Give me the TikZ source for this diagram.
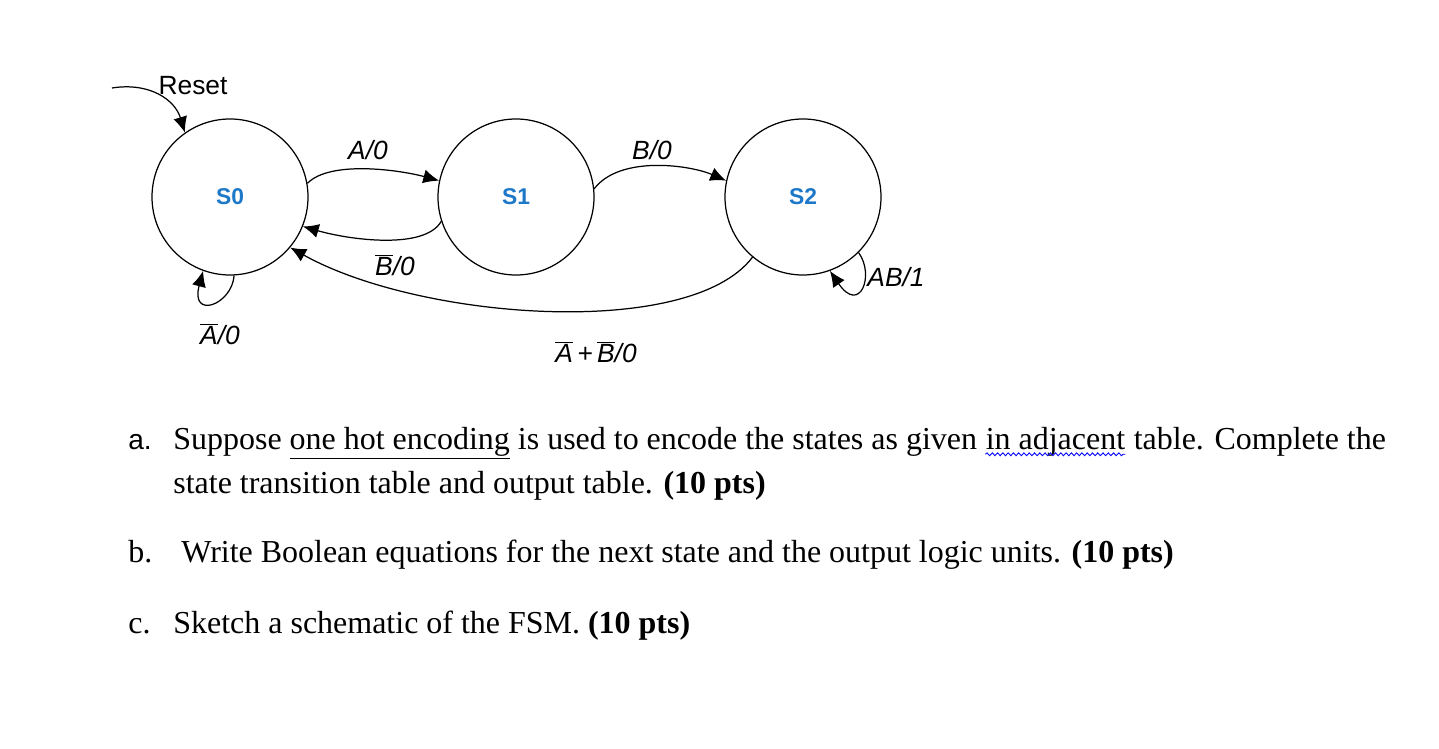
\documentclass[tikz,border=0pt]{standalone}
\usepackage{fontspec}
\setmainfont{Liberation Serif}
\newfontfamily\arial{Liberation Sans}
\usetikzlibrary{arrows.meta,decorations.pathmorphing}
\begin{document}
\begin{tikzpicture}[x=0.02cm,y=-0.02cm,
  st/.style={circle,draw,line width=0.7pt,minimum size=156*0.02cm,inner sep=0pt,font=\arial\bfseries\fontsize{13}{15}\selectfont,text={rgb,255:red,30;green,120;blue,200}},
  tr/.style={line width=0.7pt,-{Latex[length=9pt,width=8pt]}},
  lb/.style={font=\arial\itshape\fontsize{15}{17}\selectfont,inner sep=0pt},
  para/.style={anchor=base west,inner sep=0pt,font=\fontsize{18.2}{25}\selectfont}]
\useasboundingbox (0,0) rectangle (1439,749);
\node[st] (s0) at (230,197) {S0};
\node[st] (s1) at (516,197) {S1};
\node[st] (s2) at (803,197) {S2};
\coordinate (r) at (112,88);
\draw[tr] (r) .. controls (150,82) and (175,100) .. (s0.125);
\node[lb,font=\arial\fontsize{15}{17}\selectfont] (reset) at (193,86) {Reset};
\draw[tr] (s0.10) .. controls (330,160) and (400,170) .. (s1.168);
\draw[tr] (s1.198) .. controls (425,250) and (350,240) .. (s0.-22);
\draw[tr] (s1.6) .. controls (620,155) and (690,165) .. (s2.168);
\draw[tr] (s2.-130) .. controls (690,340) and (420,320) .. (s0.-40);
\draw[tr] (s0.-87) .. controls (232,305) and (190,320) .. (s0.-110);
\draw[tr] (s2.-45) .. controls (875,275) and (860,315) .. (s2.-70);
\node[lb] (l1) at (368,150) {A/0};
\node[lb] (l2) at (652,150) {B/0};
\node[lb] (l3) at (395,265) {$\overline{\mbox{\arial\itshape B}}$/0};
\node[lb] (l4) at (220,334) {$\overline{\mbox{\arial\itshape A}}$/0};
\node[lb] (l5) at (596,352) {$\overline{\mbox{\arial\itshape A}}$\,+\,$\overline{\mbox{\arial\itshape B}}$/0};
\node[lb] (l6) at (896,277) {AB/1};
\node[para,font=\arial\fontsize{16}{18}\selectfont] (a) at (128,449) {a.};
\node[para] (ta) at (173,449) {Suppose \underline{one hot encoding} is used to encode the states as given\ \mbox{}};
\node[para] (w) at (ta.base east) {in adjacent};
\node[para] (ta3) at (w.base east) {\mbox{}\ table. Complete the};
\draw[blue,line width=0.5pt,decorate,decoration={snake,amplitude=0.8pt,segment length=3pt}] ([yshift=-3pt]w.base west) -- ([yshift=-3pt]w.base east);
\node[para] (ta2) at (173,493) {state transition table and output table. \textbf{(10 pts)}};
\node[para] (b) at (128,562) {b.};
\node[para] (tb) at (181,562) {Write Boolean equations for the next state and the output logic units. \textbf{(10 pts)}};
\node[para] (c) at (128,633) {c.};
\node[para] (tc) at (173,633) {Sketch a schematic of the FSM. \textbf{(10 pts)}};
\end{tikzpicture}
\end{document}
